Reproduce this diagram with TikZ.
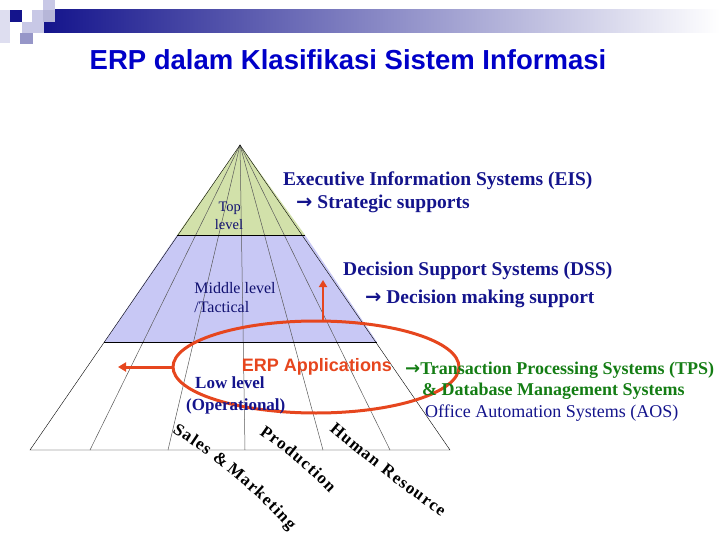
\documentclass[tikz,border=0pt]{standalone}
\usepackage{fontspec}
\setmainfont{Liberation Serif}
\newfontfamily\arial{Liberation Sans}
\newfontfamily\dejav{DejaVu Sans}
\usetikzlibrary{arrows.meta}
\definecolor{navy}{RGB}{20,20,140}
\definecolor{tgreen}{RGB}{20,125,20}
\definecolor{erpred}{RGB}{230,70,30}
\definecolor{topg}{RGB}{210,225,170}
\definecolor{midb}{RGB}{200,200,245}
\definecolor{sq}{RGB}{200,200,230}
\definecolor{sq2}{RGB}{150,150,200}
\newcommand{\arr}{{\dejav\bfseries →}}
\tikzset{
  lbl/.style={font=\bfseries\fontsize{19.5}{22}\selectfont, anchor=base west, inner sep=0},
  grn/.style={font=\bfseries\fontsize{18}{21}\selectfont, anchor=base west, inner sep=0, text=tgreen},
  lvl/.style={font=\fontsize{16}{19}\selectfont, align=left, inner sep=0, text=navy!80!black},
  fan/.style={draw=gray!70!black, line width=0.5pt},
  erp/.style={draw=erpred, line width=3pt},
  ch/.style={font=\bfseries\fontsize{17}{17}\selectfont, inner sep=0, anchor=base west}
}
\newcommand{\curvetext}[5]{% x y angle dangle list
  \xdef\sx{#1}\xdef\sy{#2}\xdef\sa{#3}
  \foreach \c/\w in {#5}{
    \node[ch, rotate=\sa] at (\sx,\sy) {\c};
    \pgfmathsetmacro\nx{\sx+(\w+1.2)*cos(\sa)}
    \pgfmathsetmacro\ny{\sy-(\w+1.2)*sin(\sa)}
    \pgfmathsetmacro\na{\sa+#4}
    \xdef\sx{\nx}\xdef\sy{\ny}\xdef\sa{\na}
  }
}
\begin{document}
\begin{tikzpicture}[x=1pt,y=-1pt]
\useasboundingbox (0,0) rectangle (720,540);
% header
\shade[left color=navy, right color=white] (44,10) rectangle (720,33);
\fill[sq!60] (0,10) rectangle (10,43);
\fill[navy] (10,10) rectangle (22,22);
\fill[sq] (32,10) rectangle (44,22);
\fill[sq] (43,0) rectangle (55,10);
\fill[sq2!70] (43,10) rectangle (55,22);
\fill[sq] (22,22) rectangle (44,33);
\fill[sq2] (20,33) rectangle (33,44);
\node[font=\arial\bfseries\fontsize{27.5}{30}\selectfont, text={rgb,255:red,0;green,0;blue,200}] (title) at (348,60) {ERP dalam Klasifikasi Sistem Informasi};
% pyramid
\coordinate (apex) at (240,145);
\fill[topg] (apex) -- (177,235) -- (305,235) -- cycle;
\fill[midb] (177,235) -- (104,342) -- (377,342) -- (305,235) -- cycle;
\foreach \bx in {90,168,245,323,390} \draw[fan] (apex) -- (\bx,450);
\draw[black] (apex) -- (30,450) -- (450,450) -- cycle;
\draw (177,235) -- (305,235);
\draw (104,342) -- (377,342);
\node[lvl, font=\fontsize{14.5}{18}\selectfont] (top) at (229,216) {\ Top\\ level};
\node[lvl] (mid) at (235,298) {Middle level\\/Tactical};
% ellipse & arrows
\draw[erp] (316,367) ellipse [x radius=143, y radius=46];
\coordinate (el) at (173,367);
\coordinate (la) at (118,367);
\draw[erp, -{Triangle[length=8pt,width=9pt]}] (el) -- (la);
\coordinate (eu) at (323,321);
\coordinate (ua) at (323,280);
\draw[erp, line width=2.5pt, -{Triangle[length=7pt,width=8pt]}] (eu) -- (ua);
\node[font=\arial\bfseries\fontsize{18}{20}\selectfont, text=erpred, inner sep=0] (erpt) at (317,367) {ERP Applications};
\node[lbl, text=navy, font=\bfseries\fontsize{17}{21}\selectfont] (low) at (195,388) {Low level};
\node[lbl, text=navy, font=\bfseries\fontsize{17}{21}\selectfont] (oper) at (186,410) {(Operational)};
% right labels
\node[lbl, text=navy] (eis) at (283,186) {Executive Information Systems (EIS)};
\node[lbl, text=navy] (eis2) at (296,209) {\arr\ Strategic supports};
\node[lbl, text=navy] (dss) at (343,275) {Decision Support Systems (DSS)};
\node[lbl, text=navy] (dss2) at (365,303) {\arr\ Decision making support};
\node[grn] (tps) at (405,374) {\arr Transaction Processing Systems (TPS)};
\node[grn] (dbms) at (422,395) {\& Database Management Systems};
\node[lbl, text=navy, font=\fontsize{18}{21}\selectfont] (oas) at (425,417) {Office Automation Systems (AOS)};
% curved labels, letter by letter
\curvetext{172}{432}{-32}{-1.0}{S/9.5,a/8.5,l/4.7,e/7.5,s/6.6,{}/4.2,\&/14,{}/2,M/16,a/8.5,r/7.5,k/9.5,e/7.5,t/5.7,i/4.7,n/9.5,g/8.5}
\curvetext{259}{434}{-35}{-1.2}{P/10.4,r/7.5,o/8.5,d/9.5,u/9.5,c/7.5,t/5.7,i/4.7,o/8.5,n/9.5}
\curvetext{329}{430}{-40}{0.4}{H/13.2,u/9.5,m/14,a/8.5,n/9.5,{}/4.2,R/12.3,e/7.5,s/6.6,o/8.5,u/9.5,r/7.5,c/7.5,e/7.5}
\end{tikzpicture}
\end{document}
